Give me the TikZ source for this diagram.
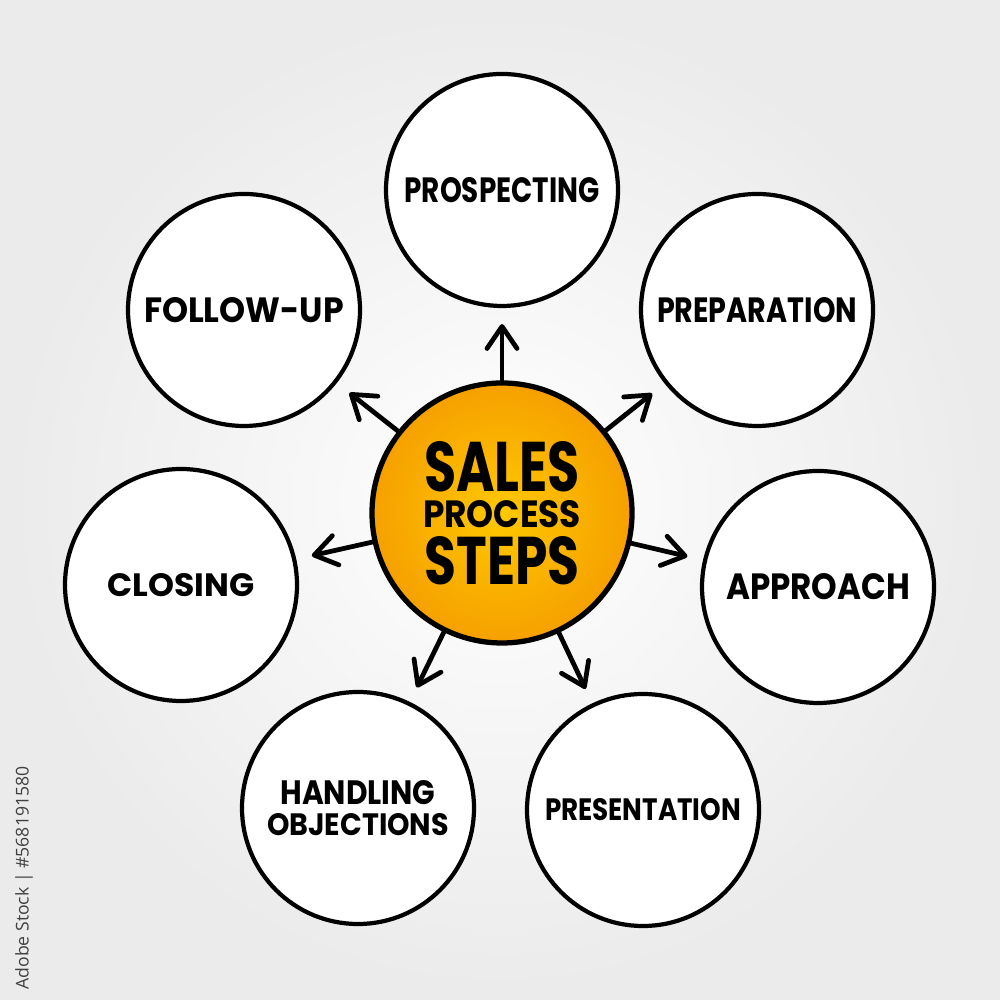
\documentclass[tikz,border=0pt]{standalone}
\usepackage{fontspec}
\setmainfont{Poppins}
\newfontfamily\tagfont{Open Sans}
\usetikzlibrary{arrows.meta}
\definecolor{hubin}{HTML}{FFC800}
\definecolor{hubout}{HTML}{F6A000}
% text box of given width and cap height
\newcommand{\hand}[3]{\resizebox{#1}{#2}{\fontsize{10}{12}\selectfont\bfseries #3}}

\begin{document}
\begin{tikzpicture}[line join=round,
	stepnode/.style={circle, draw=black, line width=1.2pt, fill=white, minimum size=2.32cm, inner sep=0pt, align=center, font=\fontsize{1}{1}\selectfont},
	hubnode/.style={circle, draw=black, line width=1.5pt, inner color=hubin, outer color=hubout, minimum size=2.6cm, inner sep=0pt, align=center, font=\fontsize{1}{1}\selectfont},
	spoke/.style={line width=1.35pt, line cap=round, -{Straight Barb[length=2.2mm, width=3mm, round]}, shorten >=1.6mm}]
	\useasboundingbox (0,0) rectangle (10,10);
	\shade[inner color=white, outer color=black!8] (0,0) rectangle (10,10);

	\node (SPS) at (5.02, 4.87)	[hubnode]	{\hand{15.6mm}{5mm}{SALES}\\[1.5pt]\hand{15.8mm}{2.7mm}{PROCESS}\\[1.5pt]\hand{15.5mm}{4.8mm}{STEPS}};
	\node (PR) at (5.02, 8.10)	[stepnode]	{\hand{19.5mm}{2.5mm}{PROSPECTING}};
	\node (PP) at (7.57, 6.90)	[stepnode]	{\hand{20mm}{2.5mm}{PREPARATION}};
	\node (AP) at (8.18, 4.13)	[stepnode]	{\hand{18.4mm}{2.6mm}{APPROACH}};
	\node (PS) at (6.43, 1.90)	[stepnode]	{\hand{19.6mm}{2.2mm}{PRESENTATION}};
	\node (HO) at (3.58, 1.92)	[stepnode]	{\hand{15.5mm}{2.4mm}{HANDLING}\\[1.5pt]\hand{18.2mm}{2.2mm}{OBJECTIONS}};
	\node (CL) at (1.81, 4.15)	[stepnode]	{\hand{14.7mm}{2.3mm}{CLOSING}};
	\node (FU) at (2.44, 6.90)	[stepnode]	{\hand{20mm}{2.5mm}{FOLLOW-UP}};
	\draw[spoke] (SPS) -- (PR);
	\draw[spoke] (SPS) -- (PP);
	\draw[spoke] (SPS) -- (AP);
	\draw[spoke] (SPS) -- (PS);
	\draw[spoke] (SPS) -- (HO);
	\draw[spoke] (SPS) -- (CL);
	\draw[spoke] (SPS) -- (FU);

	\node (tag) at (0.24, 1.22)	[rotate=90, text=black!75, inner sep=0pt]	{\resizebox{22.3mm}{!}{\tagfont\fontsize{10}{12}\selectfont Adobe Stock | \#568191580}};
\end{tikzpicture}
\end{document}
